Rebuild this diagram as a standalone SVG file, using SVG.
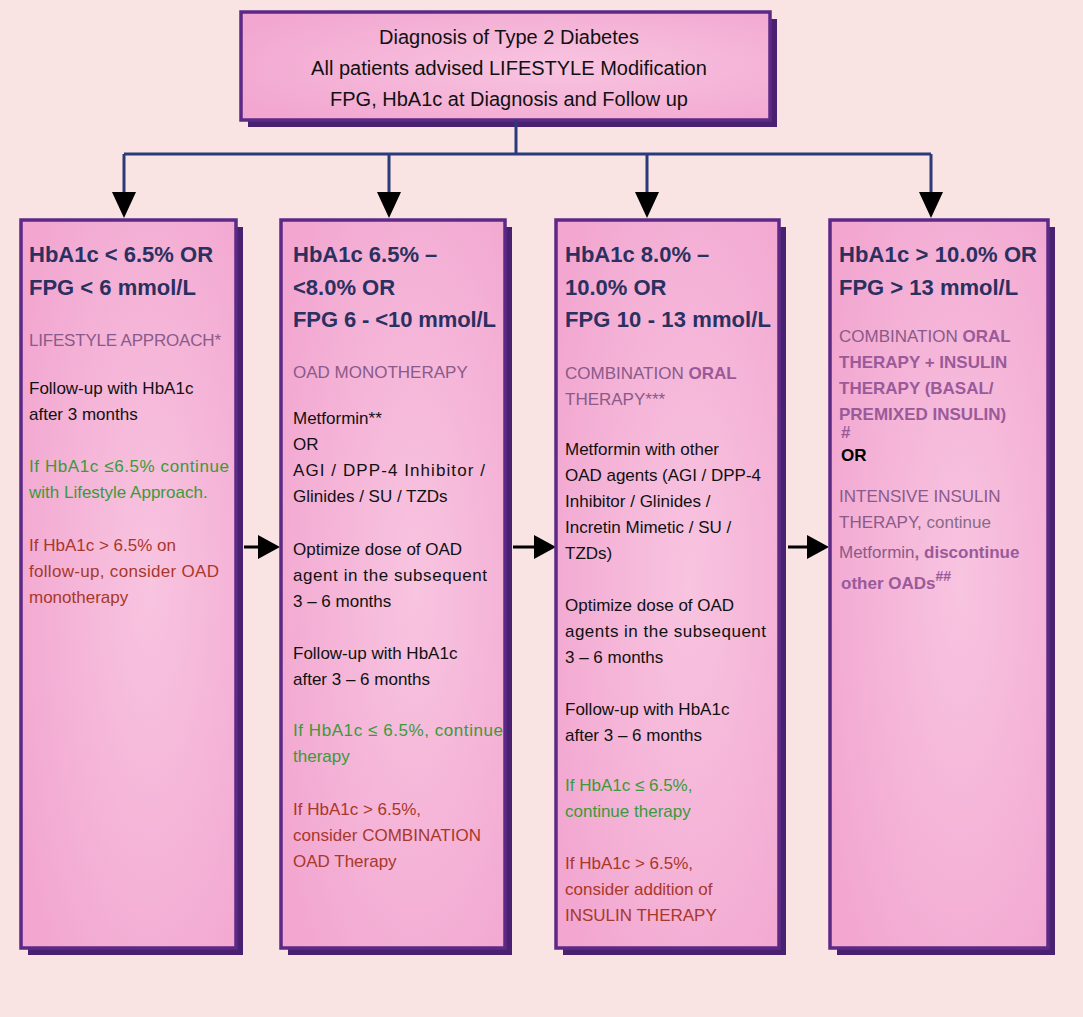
<svg xmlns="http://www.w3.org/2000/svg" width="1083" height="1017" viewBox="0 0 1083 1017">
<defs>
<radialGradient id="pk" cx="0.6" cy="0.5" r="0.7"><stop offset="0" stop-color="#f8c4e0"/><stop offset="1" stop-color="#f2a6d0"/></radialGradient>
</defs>
<style>
.sh{fill:#4a2070}
.bx{fill:url(#pk);stroke:#5c2a86;stroke-width:3.5}
text{font-family:"Liberation Sans",Arial,sans-serif}
.t{font-size:20px;fill:#111;text-anchor:middle}
.h{font-size:22px;font-weight:bold;fill:#2a3060}
.b{font-size:17px;fill:#111}
.g{font-size:17px;fill:#3a9a3a}
.r{font-size:17px;fill:#a8382a}
.p{font-size:17px;fill:#8a5a8a}
.pb{font-weight:bold;fill:#9a5a9a}
.k{font-size:17px;font-weight:bold;fill:#000}
.ln{stroke:#2a3a7a;stroke-width:3;fill:none}
.ar{stroke:#000;stroke-width:3;fill:none}
</style>
<rect width="1083" height="1017" fill="#f9e3e3"/>
<g id="top">
<rect class="sh" x="248" y="19" width="529" height="108"/>
<rect class="bx" x="241" y="12" width="529" height="108"/>
<text class="t" x="509" y="44">Diagnosis of Type 2 Diabetes</text>
<text class="t" x="509" y="75">All patients advised LIFESTYLE Modification</text>
<text class="t" x="509" y="106">FPG, HbA1c at Diagnosis and Follow up</text>
</g>
<g id="connectors">
<path class="ln" d="M516,120 V154 M124,154 H931 M124,154 V196 M389,154 V196 M647,154 V196 M931,154 V196"/>
<path d="M112,192 L136,192 L124,218 z M377,192 L401,192 L389,218 z M635,192 L659,192 L647,218 z M919,192 L943,192 L931,218 z" fill="#000"/>
<path class="ar" d="M244,547 H262 M513,547 H538 M788,547 H811"/>
<path d="M258,535 L280,547 L258,559 z M534,535 L556,547 L534,559 z M807,535 L829,547 L807,559 z" fill="#000"/>
</g>
<g id="box1">
<rect class="sh" x="28" y="227" width="215" height="728"/>
<rect class="bx" x="21" y="220" width="215" height="728"/>
<text class="h" x="29" y="262">HbA1c &lt; 6.5% OR</text>
<text class="h" x="29" y="295">FPG &lt; 6 mmol/L</text>
<text class="p" x="29" y="346" textLength="192">LIFESTYLE APPROACH*</text>
<text class="b" x="29" y="394">Follow-up with HbA1c</text>
<text class="b" x="29" y="420">after 3 months</text>
<text class="g" x="29" y="472" textLength="200">If HbA1c ≤6.5% continue</text>
<text class="g" x="29" y="498">with Lifestyle Approach.</text>
<text class="r" x="29" y="551">If HbA1c &gt; 6.5% on</text>
<text class="r" x="29" y="577" textLength="190">follow-up, consider OAD</text>
<text class="r" x="29" y="603">monotherapy</text>
</g>
<g id="box2">
<rect class="sh" x="288" y="227" width="224" height="728"/>
<rect class="bx" x="281" y="220" width="224" height="728"/>
<text class="h" x="293" y="262">HbA1c 6.5% –</text>
<text class="h" x="293" y="295">&lt;8.0% OR</text>
<text class="h" x="293" y="327" textLength="203">FPG 6 - &lt;10 mmol/L</text>
<text class="p" x="293" y="378">OAD MONOTHERAPY</text>
<text class="b" x="293" y="424">Metformin**</text>
<text class="b" x="293" y="450">OR</text>
<text class="b" x="293" y="476" textLength="192">AGI / DPP-4 Inhibitor /</text>
<text class="b" x="293" y="502">Glinides / SU / TZDs</text>
<text class="b" x="293" y="555">Optimize dose of OAD</text>
<text class="b" x="293" y="581" textLength="194">agent in the subsequent</text>
<text class="b" x="293" y="607">3 – 6 months</text>
<text class="b" x="293" y="659">Follow-up with HbA1c</text>
<text class="b" x="293" y="685">after 3 – 6 months</text>
<text class="g" x="293" y="736" textLength="210">If HbA1c ≤ 6.5%, continue</text>
<text class="g" x="293" y="762">therapy</text>
<text class="r" x="293" y="815">If HbA1c &gt; 6.5%,</text>
<text class="r" x="293" y="841" textLength="188">consider COMBINATION</text>
<text class="r" x="293" y="867">OAD Therapy</text>
</g>
<g id="box3">
<rect class="sh" x="563" y="227" width="223" height="728"/>
<rect class="bx" x="556" y="220" width="223" height="728"/>
<text class="h" x="565" y="262">HbA1c 8.0% –</text>
<text class="h" x="565" y="295">10.0% OR</text>
<text class="h" x="565" y="327" textLength="206">FPG 10 - 13 mmol/L</text>
<text class="p" x="565" y="379">COMBINATION <tspan class="pb">ORAL</tspan></text>
<text class="p" x="565" y="405">THERAPY***</text>
<text class="b" x="565" y="455">Metformin with other</text>
<text class="b" x="565" y="481" textLength="196">OAD agents (AGI / DPP-4</text>
<text class="b" x="565" y="507">Inhibitor / Glinides /</text>
<text class="b" x="565" y="533">Incretin Mimetic / SU /</text>
<text class="b" x="565" y="559">TZDs)</text>
<text class="b" x="565" y="611">Optimize dose of OAD</text>
<text class="b" x="565" y="637" textLength="201">agents in the subsequent</text>
<text class="b" x="565" y="663">3 – 6 months</text>
<text class="b" x="565" y="715">Follow-up with HbA1c</text>
<text class="b" x="565" y="741">after 3 – 6 months</text>
<text class="g" x="565" y="791">If HbA1c ≤ 6.5%,</text>
<text class="g" x="565" y="817">continue therapy</text>
<text class="r" x="565" y="869">If HbA1c &gt; 6.5%,</text>
<text class="r" x="565" y="895">consider addition of</text>
<text class="r" x="565" y="921">INSULIN THERAPY</text>
</g>
<g id="box4">
<rect class="sh" x="837" y="227" width="218" height="728"/>
<rect class="bx" x="830" y="220" width="218" height="728"/>
<text class="h" x="839" y="262" textLength="198">HbA1c &gt; 10.0% OR</text>
<text class="h" x="839" y="295">FPG &gt; 13 mmol/L</text>
<text class="p" x="839" y="342">COMBINATION <tspan class="pb">ORAL</tspan></text>
<text class="p pb" x="839" y="368">THERAPY + INSULIN</text>
<text class="p pb" x="839" y="394">THERAPY (BASAL/</text>
<text class="p pb" x="839" y="420">PREMIXED INSULIN)</text>
<text class="p pb" x="841" y="438" font-size="14">#</text>
<text class="k" x="841" y="461">OR</text>
<text class="p" x="839" y="502">INTENSIVE INSULIN</text>
<text class="p" x="839" y="528">THERAPY, <tspan fill="#8a6a8a">continue</tspan></text>
<text class="p" x="839" y="558">Metformin<tspan class="pb">, discontinue</tspan></text>
<text class="p pb" x="841" y="589">other OADs<tspan font-size="14" dy="-8">##</tspan></text>
</g>
</svg>
